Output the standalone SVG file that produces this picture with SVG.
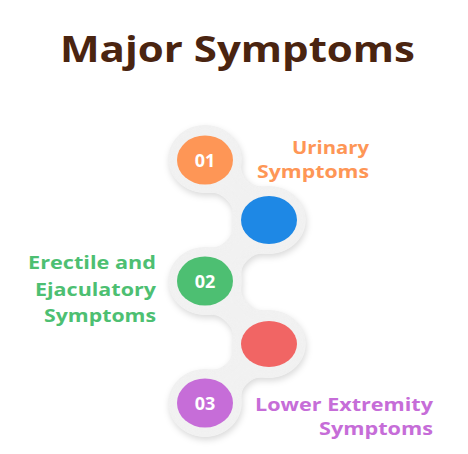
<svg xmlns="http://www.w3.org/2000/svg" width="468" height="454" viewBox="0 0 468 454">
<defs>
<style>
.t{font-family:"Open Sans","Noto Sans","DejaVu Sans",sans-serif;font-weight:bold;}
.title{font-size:35px;fill:#4a2410;}
.lbl{font-size:18.5px;}
.num{font-size:18px;fill:#ffffff;text-anchor:middle;}
.halo{fill:#f1f1f1;}
.neck{stroke:#f1f1f1;stroke-width:28;fill:none;}
</style>
<filter id="goo" x="-30%" y="-20%" width="160%" height="140%" color-interpolation-filters="sRGB">
<feGaussianBlur in="SourceGraphic" stdDeviation="6" result="b"/>
<feColorMatrix in="b" type="matrix" values="1 0 0 0 0  0 1 0 0 0  0 0 1 0 0  0 0 0 20 -9" result="g"/>
<feGaussianBlur in="g" stdDeviation="3" result="sb"/>
<feOffset in="sb" dx="1" dy="3" result="so"/>
<feFlood flood-color="#000" flood-opacity="0.14"/>
<feComposite in2="so" operator="in" result="sh"/>
<feMerge><feMergeNode in="sh"/><feMergeNode in="g"/></feMerge>
</filter>
</defs>
<rect width="468" height="454" fill="#ffffff"/>
<text class="t title" x="60" y="62" textLength="355" lengthAdjust="spacingAndGlyphs">Major Symptoms</text>
<g id="connectors" filter="url(#goo)">
<polyline class="neck" points="205,160 269,220 205,281 269,344 205,403"/>
<ellipse class="halo" cx="205" cy="159" rx="37" ry="34"/>
<ellipse class="halo" cx="269" cy="220" rx="37" ry="34"/>
<ellipse class="halo" cx="205" cy="281" rx="37" ry="34"/>
<ellipse class="halo" cx="269" cy="344" rx="37" ry="34"/>
<ellipse class="halo" cx="205" cy="403" rx="37" ry="34"/>
</g>
<g id="node-01">
<ellipse cx="205" cy="160" rx="28" ry="24.5" fill="#fe9656"/>
<text class="t num" x="205" y="166.5">01</text>
<text class="t lbl" fill="#fe9656" x="292" y="154" textLength="77" lengthAdjust="spacingAndGlyphs">Urinary</text>
<text class="t lbl" fill="#fe9656" x="257" y="178" textLength="112" lengthAdjust="spacingAndGlyphs">Symptoms</text>
</g>
<g id="node-blue">
<ellipse cx="269" cy="220" rx="28" ry="24" fill="#1e88e5"/>
</g>
<g id="node-02">
<ellipse cx="205" cy="281" rx="28" ry="24.5" fill="#4dbf72"/>
<text class="t num" x="205" y="287.5">02</text>
<text class="t lbl" fill="#4dbf72" x="28" y="269" textLength="128" lengthAdjust="spacingAndGlyphs">Erectile and</text>
<text class="t lbl" fill="#4dbf72" x="35" y="296" textLength="121" lengthAdjust="spacingAndGlyphs">Ejaculatory</text>
<text class="t lbl" fill="#4dbf72" x="44" y="322" textLength="112" lengthAdjust="spacingAndGlyphs">Symptoms</text>
</g>
<g id="node-red">
<ellipse cx="269" cy="344" rx="28" ry="23" fill="#f16564"/>
</g>
<g id="node-03">
<ellipse cx="205" cy="403" rx="28" ry="24.5" fill="#c66dd8"/>
<text class="t num" x="205" y="409.5">03</text>
<text class="t lbl" fill="#c66dd8" x="255" y="411" textLength="178" lengthAdjust="spacingAndGlyphs">Lower Extremity</text>
<text class="t lbl" fill="#c66dd8" x="319" y="435" textLength="114" lengthAdjust="spacingAndGlyphs">Symptoms</text>
</g>
</svg>
